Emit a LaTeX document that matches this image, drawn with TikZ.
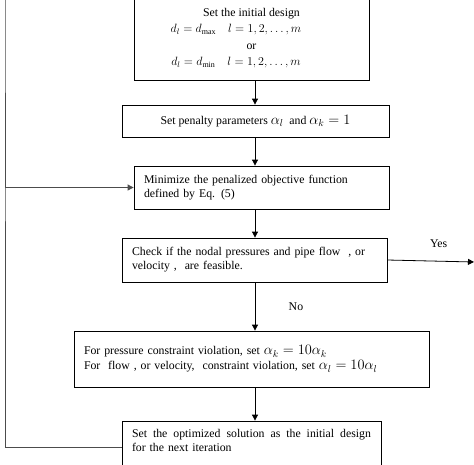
\documentclass[tikz,border=0pt]{standalone}
\usepackage{fontspec}
\setmainfont{Liberation Serif}
\usetikzlibrary{arrows.meta}

\begin{document}
\begin{tikzpicture}[x=1pt,y=-1pt]

      \useasboundingbox (0,0) rectangle (474,464);
      \clip (0,0) rectangle (474,464);
      \coordinate (c)   at (255,0);
      \coordinate (out) at (474,262);
      \coordinate (back) at (5,0);

      \begin{scope}[every node/.style={rectangle,draw,line width=.8pt,inner ysep=0pt,inner xsep=10pt,
                    font=\fontsize{11.8}{14}\selectfont}]
        \node[minimum width=235,minimum height=84,align=center,font=\fontsize{11.8}{16.5}\selectfont] (1) at (251.5,38)
          {Set the initial design\\
           {\large$d_l = d_{\max}\quad l = 1,2,\ldots,m$}\hspace*{31pt}\mbox{}\\
           or\\
           {\large$d_l = d_{\min}\quad l = 1,2,\ldots,m$}\hspace*{31pt}\mbox{}};
        \node[minimum width=267,minimum height=32,align=center] (2) at (255.5,121)
          {Set penalty parameters {\Large$\alpha_l$}\ \ and {\Large$\alpha_k = 1$}};
        \node[minimum width=255,minimum height=43,text width=235,align=left] (3) at (261.5,187.5)
          {Minimize the penalized objective function\\ defined by Eq. (5)};
        \node[minimum width=265,minimum height=44,text width=245,align=left] (4) at (254.5,260)
          {Check if the nodal pressures and pipe flow~~, or\\ velocity~,~ are feasible.};
        \node[minimum width=355,minimum height=56,text width=335,align=left] (5) at (251.5,359)
          {For pressure constraint violation, set {\Large$\alpha_k = 10\alpha_k$}\\[1pt]
           For~ flow , or velocity,~ constraint violation, set {\Large$\alpha_l = 10\alpha_l$}};
        \node[minimum width=259,minimum height=52,text width=239,align=left] (6) at (251.5,447)
          {\hbox to 239pt{Set\hfill the\hfill optimized\hfill solution\hfill as\hfill the\hfill initial\hfill design}\\
           for the next iteration\\ \mbox{}};
      \end{scope}

      \begin{scope}[every node/.style={font=\fontsize{11.8}{14}\selectfont}]

        \begin{scope}[every edge/.style={draw,line width=.8pt,-{Triangle[length=6pt,width=6pt]}}]
          \path (1.south -| c) edge (2.north -| c);
          \path (2.south -| c) edge (3.north -| c);
          \path (3.south -| c) edge (4.north -| c);
          \path (4.south -| c) edge node[right,xshift=30pt] {No} (5.north -| c);
          \path (5.south -| c) edge (6.north -| c);
          \path (4.east)       edge node[above,xshift=8pt,yshift=10pt] {Yes} (out);
        \end{scope}

        \draw[line width=.8pt,black!70,-{Triangle[length=6pt,width=6pt]}]
          (6.west) -| (back) |- (3.west);
      \end{scope}

    \end{tikzpicture}
\end{document}
